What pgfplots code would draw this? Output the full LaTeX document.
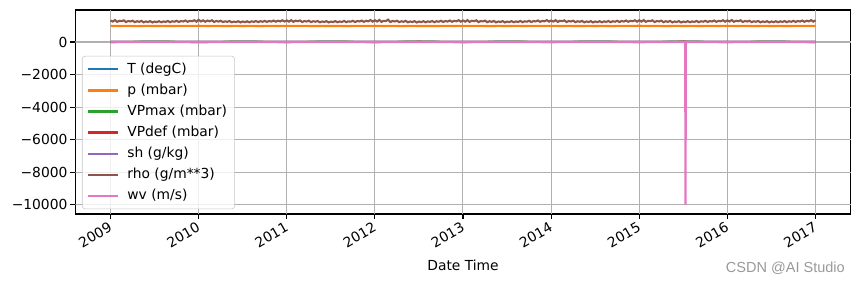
\documentclass[border=0pt]{standalone}
\usepackage{pgfplots}
\pgfplotsset{compat=1.18}
\usepackage{fontspec}
\setmainfont{DejaVu Sans}
\newfontfamily\wmfont{Liberation Sans}
\definecolor{c0}{HTML}{1F77B4}
\definecolor{c1}{HTML}{FF7F0E}
\definecolor{c2}{HTML}{2CA02C}
\definecolor{c3}{HTML}{D62728}
\definecolor{c4}{HTML}{9467BD}
\definecolor{c5}{HTML}{8C564B}
\definecolor{c6}{HTML}{E377C2}
\definecolor{gridgray}{HTML}{B0B0B0}
\begin{document}
\begin{tikzpicture}
\useasboundingbox (-54.42pt,-49.87pt) rectangle (567.08pt,154.66pt);
\begin{axis}[
  at={(0pt,0pt)}, anchor=south west,
  scale only axis, width=560.4pt, height=147.4pt,
  x filter/.expression={x-2009},
  xmin=-0.4, xmax=8.4, ymin=-10569, ymax=1963,
  scaled ticks=false,
  xtick={0,1,2,3,4,5,6,7,8},
  xticklabels={2009,2010,2011,2012,2013,2014,2015,2016,2017},
  ytick={-10000,-8000,-6000,-4000,-2000,0},
  yticklabels={−10000,−8000,−6000,−4000,−2000,0},
  xtick pos=bottom, ytick pos=left,
  tick align=outside, major tick length=3.5pt,
  major tick style={black, line width=0.8pt},
  axis line style={line width=0.8pt},
  ticklabel style={font=\fontsize{10}{12}\selectfont},
  xticklabel style={rotate=30, anchor=north east, inner sep=0.5pt, xshift=-2pt},
  yticklabel style={inner sep=2pt},
  legend style={at={(axis description cs:0.0086,0.775)}, anchor=north west,
    font=\fontsize{10}{12}\selectfont, draw=black!22, rounded corners=2pt,
    fill=white, fill opacity=0.8, draw opacity=1, text opacity=1, row sep=2.1pt,
    inner xsep=3.5pt, inner ysep=3pt,
    /tikz/every odd column/.append style={column sep=4pt}},
  legend cell align=left,
  legend image post style={xscale=1.265},
  every axis plot/.append style={line width=1.5pt},
]
% grid lines at the major ticks
\draw[gridgray, line width=0.8pt] (rel axis cs:0.04545,0) -- (rel axis cs:0.04545,1);
\draw[gridgray, line width=0.8pt] (rel axis cs:0.15909,0) -- (rel axis cs:0.15909,1);
\draw[gridgray, line width=0.8pt] (rel axis cs:0.27273,0) -- (rel axis cs:0.27273,1);
\draw[gridgray, line width=0.8pt] (rel axis cs:0.38636,0) -- (rel axis cs:0.38636,1);
\draw[gridgray, line width=0.8pt] (rel axis cs:0.4994,0) -- (rel axis cs:0.4994,1);
\draw[gridgray, line width=0.8pt] (rel axis cs:0.61364,0) -- (rel axis cs:0.61364,1);
\draw[gridgray, line width=0.8pt] (rel axis cs:0.72727,0) -- (rel axis cs:0.72727,1);
\draw[gridgray, line width=0.8pt] (rel axis cs:0.84091,0) -- (rel axis cs:0.84091,1);
\draw[gridgray, line width=0.8pt] (rel axis cs:0.95455,0) -- (rel axis cs:0.95455,1);
\draw[gridgray, line width=0.8pt] (rel axis cs:0,0.04540) -- (rel axis cs:1,0.04540);
\draw[gridgray, line width=0.8pt] (rel axis cs:0,0.20500) -- (rel axis cs:1,0.20500);
\draw[gridgray, line width=0.8pt] (rel axis cs:0,0.36459) -- (rel axis cs:1,0.36459);
\draw[gridgray, line width=0.8pt] (rel axis cs:0,0.52418) -- (rel axis cs:1,0.52418);
\draw[gridgray, line width=0.8pt] (rel axis cs:0,0.68377) -- (rel axis cs:1,0.68377);
\draw[gridgray, line width=0.8pt] (rel axis cs:0,0.84336) -- (rel axis cs:1,0.84336);
\addplot[c0] coordinates {(2009.00,1)(2009.25,9)(2009.50,20)(2009.75,10)(2010.00,-2)(2010.25,8)(2010.50,21)(2010.75,9)(2011.00,1)(2011.25,10)(2011.50,19)(2011.75,11)(2012.00,0)(2012.25,9)(2012.50,22)(2012.75,10)(2013.00,1)(2013.25,8)(2013.50,20)(2013.75,10)(2014.00,3)(2014.25,11)(2014.50,19)(2014.75,11)(2015.00,2)(2015.25,9)(2015.50,23)(2015.75,10)(2016.00,2)(2016.25,10)(2016.50,20)(2016.75,9)(2017.00,0)};
\addlegendentry{T (degC)}
\addplot[c1] coordinates {(2009.0,996)(2009.1,984)(2009.2,990)(2009.3,979)(2009.4,988)(2009.5,983)(2009.6,986)(2009.7,981)(2009.8,993)(2009.9,985)
(2010.0,998)(2010.1,982)(2010.2,992)(2010.3,980)(2010.4,987)(2010.5,984)(2010.6,988)(2010.7,980)(2010.8,991)(2010.9,983)
(2011.0,995)(2011.1,985)(2011.2,989)(2011.3,981)(2011.4,986)(2011.5,982)(2011.6,987)(2011.7,979)(2011.8,994)(2011.9,986)
(2012.0,997)(2012.1,983)(2012.2,991)(2012.3,978)(2012.4,989)(2012.5,984)(2012.6,985)(2012.7,982)(2012.8,992)(2012.9,984)
(2013.0,994)(2013.1,986)(2013.2,990)(2013.3,980)(2013.4,987)(2013.5,983)(2013.6,988)(2013.7,981)(2013.8,995)(2013.9,985)
(2014.0,996)(2014.1,982)(2014.2,988)(2014.3,981)(2014.4,986)(2014.5,985)(2014.6,986)(2014.7,980)(2014.8,993)(2014.9,987)
(2015.0,999)(2015.1,984)(2015.2,991)(2015.3,979)(2015.4,988)(2015.5,983)(2015.6,987)(2015.7,982)(2015.8,992)(2015.9,984)
(2016.0,995)(2016.1,983)(2016.2,990)(2016.3,980)(2016.4,987)(2016.5,984)(2016.6,986)(2016.7,981)(2016.8,994)(2016.9,986)(2017.0,993)};
\addlegendentry{p (mbar)}
\addplot[c2] coordinates {(2009.00,6)(2009.25,12)(2009.50,25)(2009.75,12)(2010.00,5)(2010.25,11)(2010.50,27)(2010.75,12)(2011.00,6)(2011.25,13)(2011.50,24)(2011.75,13)(2012.00,6)(2012.25,12)(2012.50,28)(2012.75,12)(2013.00,6)(2013.25,11)(2013.50,25)(2013.75,12)(2014.00,7)(2014.25,13)(2014.50,24)(2014.75,13)(2015.00,7)(2015.25,12)(2015.50,29)(2015.75,12)(2016.00,7)(2016.25,12)(2016.50,25)(2016.75,11)(2017.00,6)};
\addlegendentry{VPmax (mbar)}
\addplot[c3] coordinates {(2009.00,1)(2009.25,5)(2009.50,12)(2009.75,4)(2010.00,1)(2010.25,4)(2010.50,13)(2010.75,4)(2011.00,1)(2011.25,6)(2011.50,11)(2011.75,4)(2012.00,1)(2012.25,5)(2012.50,14)(2012.75,4)(2013.00,1)(2013.25,4)(2013.50,12)(2013.75,4)(2014.00,1)(2014.25,6)(2014.50,11)(2014.75,5)(2015.00,1)(2015.25,5)(2015.50,15)(2015.75,4)(2016.00,1)(2016.25,5)(2016.50,12)(2016.75,4)(2017.00,1)};
\addlegendentry{VPdef (mbar)}
\addplot[c4] coordinates {(2009.00,3)(2009.25,6)(2009.50,10)(2009.75,6)(2010.00,3)(2010.25,5)(2010.50,11)(2010.75,6)(2011.00,3)(2011.25,6)(2011.50,10)(2011.75,7)(2012.00,3)(2012.25,6)(2012.50,11)(2012.75,6)(2013.00,3)(2013.25,5)(2013.50,10)(2013.75,6)(2014.00,4)(2014.25,6)(2014.50,10)(2014.75,7)(2015.00,4)(2015.25,6)(2015.50,11)(2015.75,6)(2016.00,4)(2016.25,6)(2016.50,10)(2016.75,6)(2017.00,3)};
\addlegendentry{sh (g/kg)}
\addplot[c5] coordinates {
(2009.000,1320)(2009.025,1255)(2009.050,1348)(2009.075,1236)(2009.100,1302)(2009.125,1281)(2009.150,1330)(2009.175,1224)(2009.200,1290)(2009.225,1262)(2009.250,1310)(2009.275,1218)(2009.300,1276)(2009.325,1240)(2009.350,1296)(2009.375,1205)(2009.400,1262)(2009.425,1230)(2009.450,1284)(2009.475,1198)(2009.500,1258)(2009.525,1222)(2009.550,1280)(2009.575,1210)(2009.600,1266)(2009.625,1234)(2009.650,1292)(2009.675,1215)(2009.700,1274)(2009.725,1246)(2009.750,1305)(2009.775,1228)(2009.800,1288)(2009.825,1260)(2009.850,1322)(2009.875,1240)(2009.900,1300)(2009.925,1272)(2009.950,1340)(2009.975,1250)
(2010.000,1362)(2010.025,1262)(2010.050,1330)(2010.075,1244)(2010.100,1318)(2010.125,1270)(2010.150,1336)(2010.175,1230)(2010.200,1296)(2010.225,1254)(2010.250,1306)(2010.275,1226)(2010.300,1270)(2010.325,1236)(2010.350,1290)(2010.375,1212)(2010.400,1256)(2010.425,1226)(2010.450,1276)(2010.475,1202)(2010.500,1262)(2010.525,1218)(2010.550,1272)(2010.575,1206)(2010.600,1270)(2010.625,1238)(2010.650,1286)(2010.675,1220)(2010.700,1280)(2010.725,1242)(2010.750,1298)(2010.775,1232)(2010.800,1294)(2010.825,1256)(2010.850,1316)(2010.875,1246)(2010.900,1308)(2010.925,1266)(2010.950,1334)(2010.975,1258)
(2011.000,1326)(2011.025,1250)(2011.050,1342)(2011.075,1240)(2011.100,1308)(2011.125,1276)(2011.150,1324)(2011.175,1228)(2011.200,1286)(2011.225,1258)(2011.250,1312)(2011.275,1222)(2011.300,1278)(2011.325,1244)(2011.350,1292)(2011.375,1208)(2011.400,1260)(2011.425,1232)(2011.450,1280)(2011.475,1200)(2011.500,1254)(2011.525,1224)(2011.550,1284)(2011.575,1212)(2011.600,1262)(2011.625,1230)(2011.650,1296)(2011.675,1218)(2011.700,1270)(2011.725,1248)(2011.750,1302)(2011.775,1226)(2011.800,1292)(2011.825,1262)(2011.850,1318)(2011.875,1236)(2011.900,1304)(2011.925,1270)(2011.950,1346)(2011.975,1252)
(2012.000,1338)(2012.025,1258)(2012.050,1354)(2012.075,1238)(2012.100,1300)(2012.125,1284)(2012.150,1374)(2012.175,1226)(2012.200,1292)(2012.225,1260)(2012.250,1308)(2012.275,1220)(2012.300,1274)(2012.325,1242)(2012.350,1298)(2012.375,1206)(2012.400,1264)(2012.425,1228)(2012.450,1282)(2012.475,1196)(2012.500,1260)(2012.525,1220)(2012.550,1278)(2012.575,1208)(2012.600,1268)(2012.625,1236)(2012.650,1290)(2012.675,1214)(2012.700,1276)(2012.725,1244)(2012.750,1304)(2012.775,1230)(2012.800,1290)(2012.825,1258)(2012.850,1320)(2012.875,1242)(2012.900,1302)(2012.925,1274)(2012.950,1338)(2012.975,1248)
(2013.000,1324)(2013.025,1252)(2013.050,1344)(2013.075,1234)(2013.100,1306)(2013.125,1278)(2013.150,1332)(2013.175,1222)(2013.200,1288)(2013.225,1264)(2013.250,1312)(2013.275,1216)(2013.300,1278)(2013.325,1238)(2013.350,1294)(2013.375,1204)(2013.400,1260)(2013.425,1232)(2013.450,1286)(2013.475,1200)(2013.500,1256)(2013.525,1224)(2013.550,1282)(2013.575,1212)(2013.600,1264)(2013.625,1232)(2013.650,1294)(2013.675,1216)(2013.700,1272)(2013.725,1248)(2013.750,1306)(2013.775,1226)(2013.800,1286)(2013.825,1262)(2013.850,1324)(2013.875,1238)(2013.900,1298)(2013.925,1270)(2013.950,1342)(2013.975,1252)
(2014.000,1318)(2014.025,1256)(2014.050,1340)(2014.075,1238)(2014.100,1304)(2014.125,1280)(2014.150,1328)(2014.175,1226)(2014.200,1292)(2014.225,1260)(2014.250,1308)(2014.275,1220)(2014.300,1274)(2014.325,1242)(2014.350,1298)(2014.375,1206)(2014.400,1264)(2014.425,1228)(2014.450,1282)(2014.475,1200)(2014.500,1260)(2014.525,1220)(2014.550,1278)(2014.575,1208)(2014.600,1268)(2014.625,1236)(2014.650,1290)(2014.675,1214)(2014.700,1276)(2014.725,1244)(2014.750,1304)(2014.775,1230)(2014.800,1290)(2014.825,1258)(2014.850,1320)(2014.875,1242)(2014.900,1302)(2014.925,1274)(2014.950,1336)(2014.975,1248)
(2015.000,1334)(2015.025,1254)(2015.050,1346)(2015.075,1236)(2015.100,1302)(2015.125,1282)(2015.150,1330)(2015.175,1224)(2015.200,1290)(2015.225,1262)(2015.250,1310)(2015.275,1218)(2015.300,1276)(2015.325,1240)(2015.350,1296)(2015.375,1205)(2015.400,1262)(2015.425,1230)(2015.450,1284)(2015.475,1198)(2015.500,1258)(2015.525,1222)(2015.550,1280)(2015.575,1210)(2015.600,1266)(2015.625,1234)(2015.650,1292)(2015.675,1215)(2015.700,1274)(2015.725,1246)(2015.750,1305)(2015.775,1228)(2015.800,1288)(2015.825,1260)(2015.850,1322)(2015.875,1240)(2015.900,1300)(2015.925,1272)(2015.950,1340)(2015.975,1250)
(2016.000,1328)(2016.025,1258)(2016.050,1350)(2016.075,1240)(2016.100,1306)(2016.125,1278)(2016.150,1334)(2016.175,1228)(2016.200,1294)(2016.225,1258)(2016.250,1306)(2016.275,1222)(2016.300,1272)(2016.325,1244)(2016.350,1292)(2016.375,1208)(2016.400,1266)(2016.425,1226)(2016.450,1280)(2016.475,1202)(2016.500,1262)(2016.525,1218)(2016.550,1276)(2016.575,1212)(2016.600,1270)(2016.625,1232)(2016.650,1288)(2016.675,1218)(2016.700,1278)(2016.725,1242)(2016.750,1302)(2016.775,1232)(2016.800,1292)(2016.825,1256)(2016.850,1318)(2016.875,1244)(2016.900,1306)(2016.925,1268)(2016.950,1344)(2016.975,1254)
(2017.000,1330)};
\addlegendentry{rho (g/m**3)}
\addplot[c6] coordinates {(2009.00,2)(2011.00,2)(2013.00,2)(2015.52,2)(2015.525,-9999)(2015.53,2)(2017.00,2)};
\addlegendentry{wv (m/s)}
\end{axis}
\node[anchor=center, font=\fontsize{10}{12}\selectfont] at (280.2pt,-36.9pt) {Date Time};
\node[anchor=east, inner sep=0pt, text=black!40, font=\wmfont\fontsize{10.5}{12}\selectfont] at (556.3pt,-39.0pt) {CSDN @AI Studio};
\end{tikzpicture}
\end{document}
